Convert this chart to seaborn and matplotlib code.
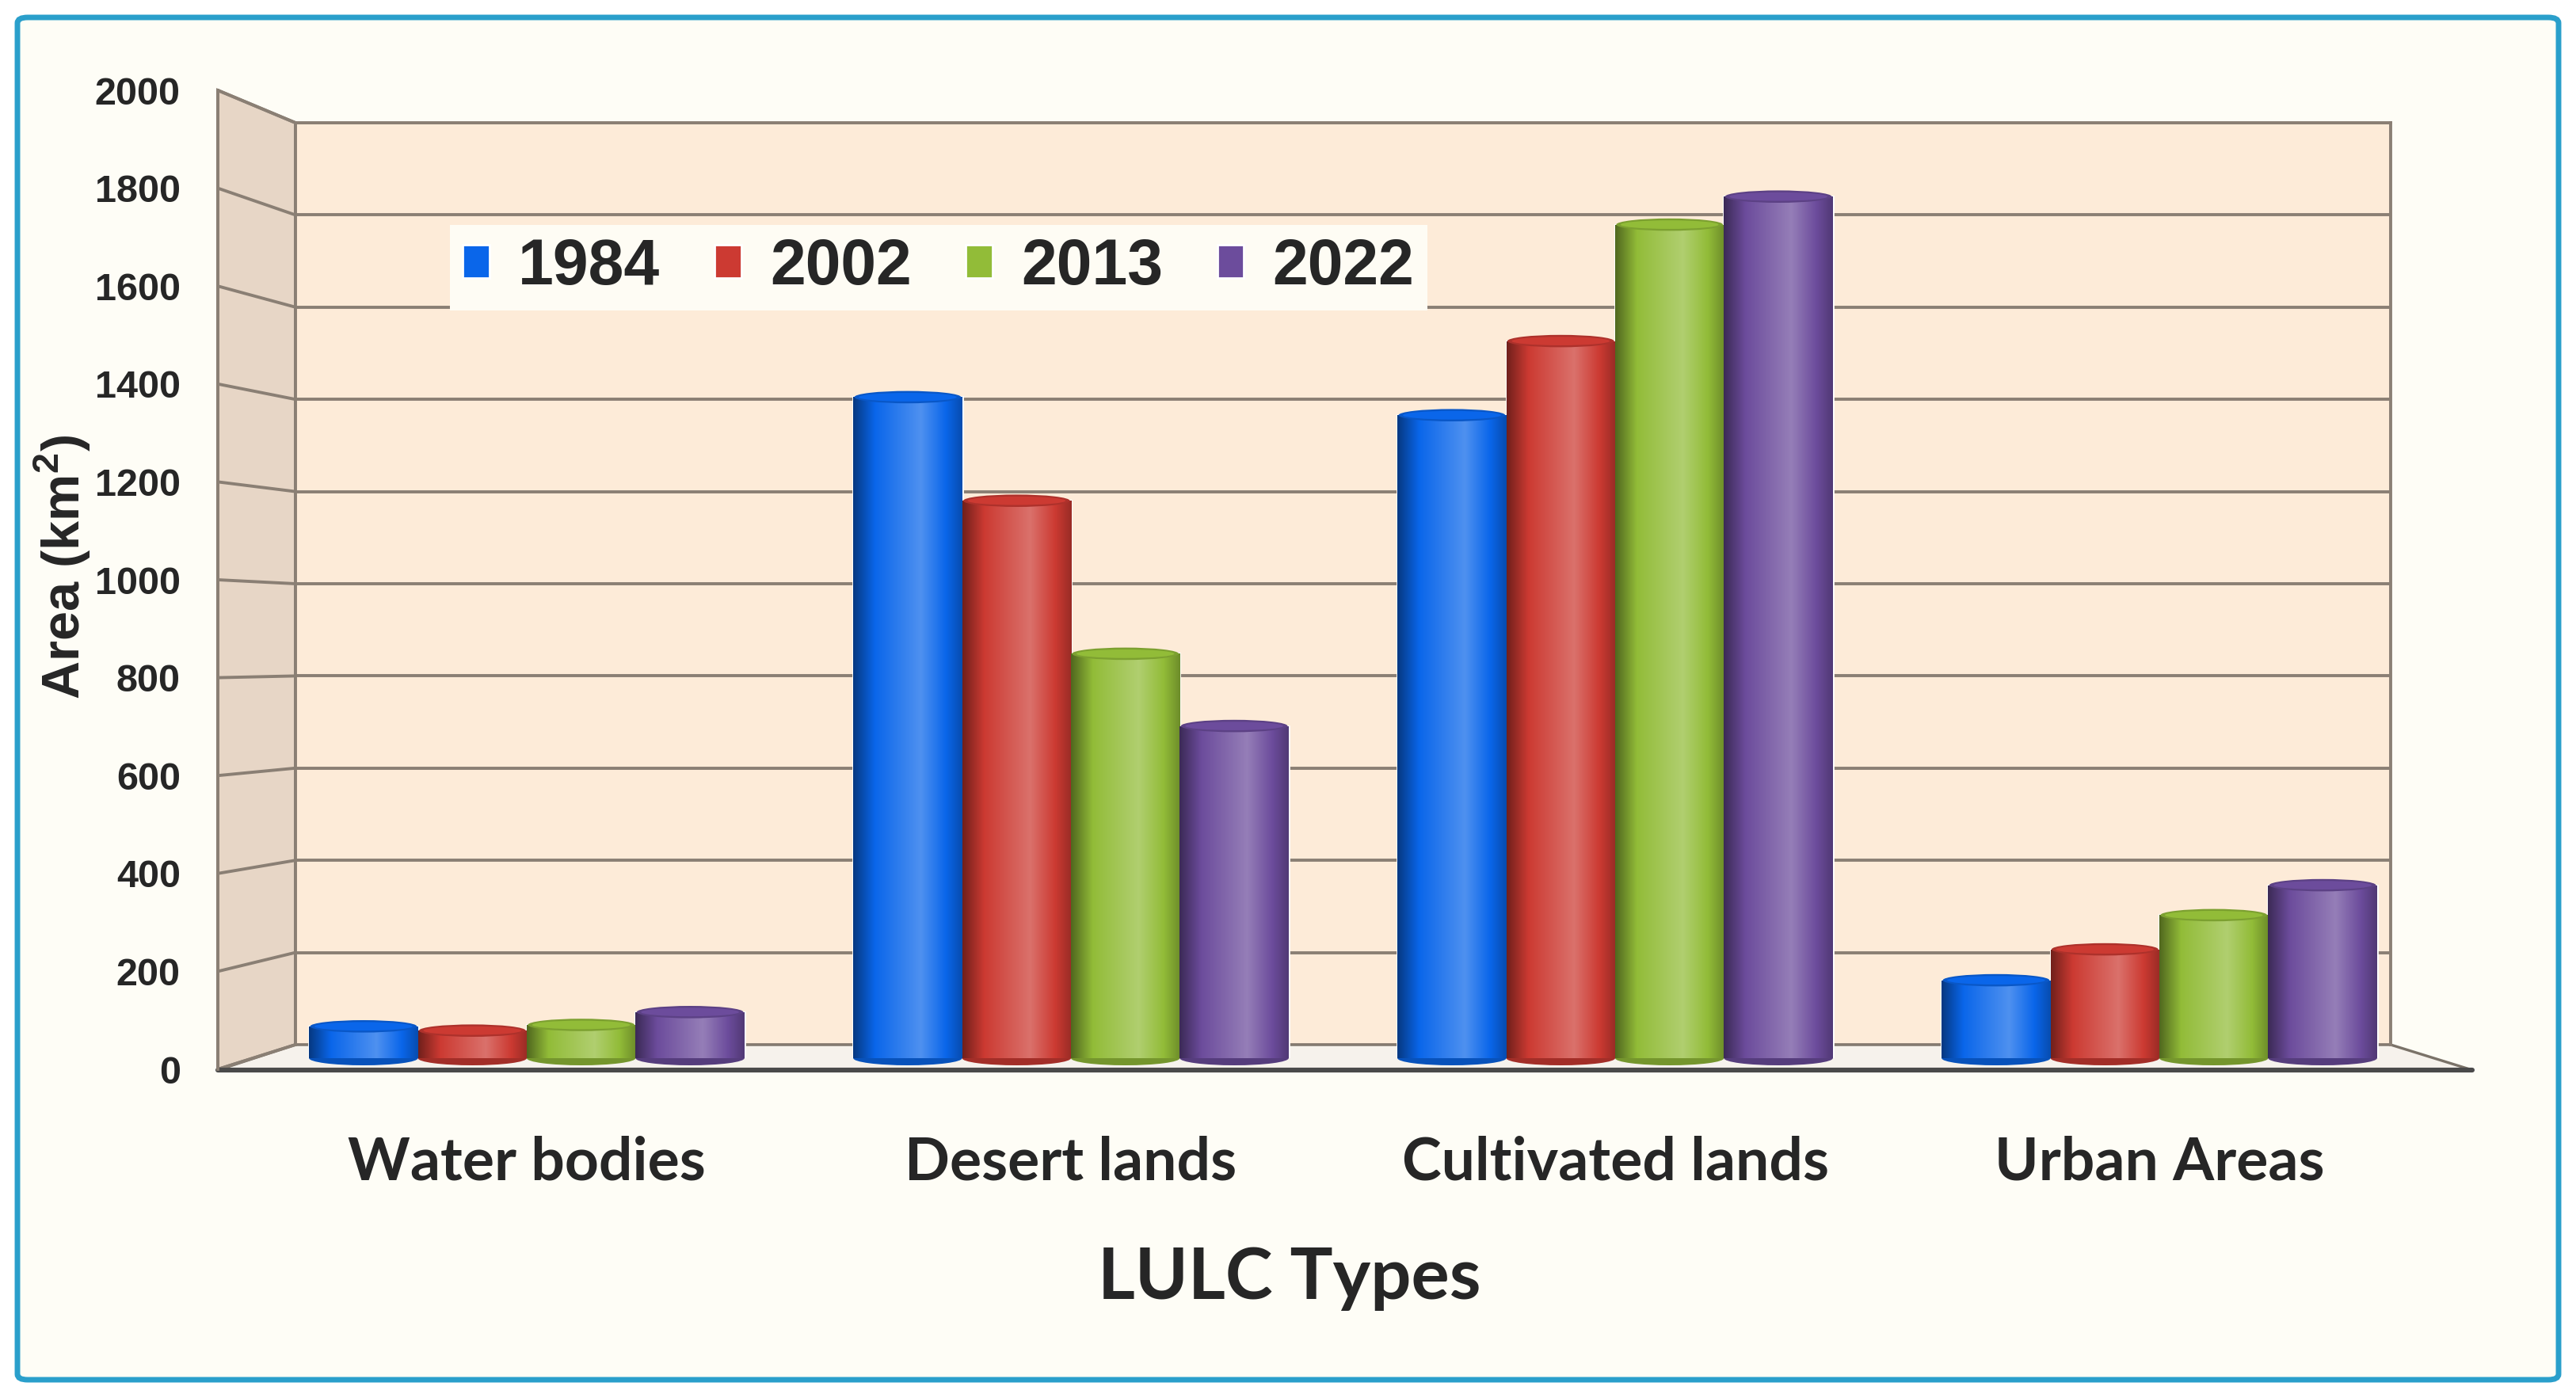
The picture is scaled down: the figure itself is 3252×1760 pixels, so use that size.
import numpy as np
import pandas as pd
import matplotlib
matplotlib.use("Agg")
import matplotlib.pyplot as plt
import seaborn as sns
from matplotlib.patches import Polygon, FancyBboxPatch, Ellipse
from matplotlib.lines import Line2D
from matplotlib.colors import LinearSegmentedColormap, to_rgb

categories = ["Water bodies", "Desert lands", "Cultivated lands", "Urban Areas"]
years = ["1984", "2002", "2013", "2022"]
area_1984 = [67, 1391, 1353, 164]
area_2002 = [58, 1173, 1509, 229]
area_2013 = [70, 851, 1754, 301]
area_2022 = [97, 699, 1813, 364]
y_ticks = [0, 200, 400, 600, 800, 1000, 1200, 1400, 1600, 1800, 2000]
year_colors = ["#0a66ea", "#cc3a32", "#92bc38", "#6c4c9c"]

df = pd.DataFrame({
    "LULC": categories * 4,
    "Year": np.repeat(years, len(categories)),
    "Area": area_1984 + area_2002 + area_2013 + area_2022,
})

W, H, DPI = 3252, 1760, 200
num_font = "Liberation Sans"
cat_font = "Lato"
grid_col = "#8a7f74"

sns.set_theme(style="white")
plt.rcParams["font.family"] = [num_font, "DejaVu Sans"]
plt.rcParams["mathtext.fontset"] = "custom"
plt.rcParams["mathtext.rm"] = "Liberation Sans:bold"
plt.rcParams["mathtext.bf"] = "Liberation Sans:bold"

fig = plt.figure(figsize=(W / DPI, H / DPI), dpi=DPI)
fig.patch.set_facecolor("white")


def fx(px):
    return px / W


def fy(py):
    return 1 - py / H


# outer frame
frame = FancyBboxPatch((fx(22), fy(1742)), fx(3230) - fx(22), fy(22) - fy(1742),
                       boxstyle="round,pad=0,rounding_size=0.004",
                       transform=fig.transFigure, facecolor="#fefdf6",
                       edgecolor="#2a9fcb", linewidth=2.5, zorder=-2)
fig.patches.append(frame)

# back wall with the grid
ax = fig.add_axes([fx(373), fy(1319), fx(3018) - fx(373), fy(155) - fy(1319)])
ax.set_zorder(2)
ax.set_facecolor("#fdebd8")
ax.set_xlim(0, 1)
ax.set_ylim(0, 2000)
ax.set_yticks(y_ticks)
ax.yaxis.grid(True, color=grid_col, linewidth=1.4)
ax.tick_params(axis="y", left=False, labelleft=False)
ax.set_xticks([])
for side in ["left", "right", "top"]:
    ax.spines[side].set_color(grid_col)
    ax.spines[side].set_linewidth(1.4)
ax.spines["bottom"].set_visible(False)

# bars stand a little in front of the back wall
axb = fig.add_axes([fx(373), fy(1336), fx(3018) - fx(373), fy(136) - fy(1336)])
axb.set_zorder(3)
axb.set_facecolor("none")

sns.barplot(data=df, x="LULC", y="Area", hue="Year", palette=year_colors,
            width=0.8, saturation=1, ax=axb, zorder=3)

# cylinder shading on every bar
for container, col in zip(axb.containers, year_colors):
    base = np.array(to_rgb(col))
    dark = base * 0.55
    light = np.clip(base + (1 - base) * 0.28, 0, 1)
    cmap = LinearSegmentedColormap.from_list(
        "cyl", [(0, dark), (0.2, base), (0.62, light), (0.85, base), (1, base * 0.75)])
    grad = np.linspace(0, 1, 256).reshape(1, -1)
    for bar in container:
        x0, w, h = bar.get_x(), bar.get_width(), bar.get_height()
        im = axb.imshow(grad, extent=[x0, x0 + w, 0, h], cmap=cmap, aspect="auto",
                        origin="lower", zorder=3.1)
        im.set_clip_path(bar)
        axb.add_patch(Ellipse((x0 + w / 2, h), w * 0.98, 26, facecolor=base * 0.85,
                              edgecolor="none", zorder=3.2))
        axb.add_patch(Ellipse((x0 + w / 2, h), w * 0.9, 18, facecolor=base,
                              edgecolor="none", zorder=3.3))
        axb.add_patch(Ellipse((x0 + w / 2, 0), w, 30, facecolor=base * 0.8,
                              edgecolor="none", zorder=3.05, clip_on=False))

axb.set_xlim(-0.425, 3.425)
axb.set_ylim(0, 2000)
axb.set_yticks([])
axb.grid(False)
axb.tick_params(axis="x", bottom=False, pad=29)
axb.set_xticks(range(len(categories)))
axb.set_xticklabels(categories, fontsize=27, fontweight="bold", family=cat_font)
axb.set_xlabel("")
axb.set_ylabel("")
for side in axb.spines:
    axb.spines[side].set_visible(False)

# front edge of the left wall carries the value labels
axf = fig.add_axes([fx(275), fy(1350), fx(373) - fx(275), fy(114) - fy(1350)])
axf.set_zorder(1)
axf.set_facecolor("none")
axf.set_ylim(0, 2000)
axf.set_yticks(y_ticks)
axf.set_yticklabels([str(t) for t in y_ticks], fontsize=17.5, fontweight="bold",
                    family=num_font)
axf.tick_params(axis="y", length=0, pad=17)
axf.set_xticks([])
for side in ["right", "top", "bottom"]:
    axf.spines[side].set_visible(False)
axf.spines["left"].set_color(grid_col)
axf.spines["left"].set_linewidth(1.4)

to_fig = fig.transFigure.inverted()


def front_pt(v):
    return to_fig.transform(axf.transData.transform((0, v)))


def back_pt(v):
    p = ax.transAxes.transform((0, 0))
    q = ax.transData.transform((0, v))
    return to_fig.transform((p[0], q[1]))


wall = Polygon([front_pt(0), front_pt(2000), back_pt(2000), back_pt(0)],
               closed=True, transform=fig.transFigure, facecolor="#e7d6c6",
               edgecolor=grid_col, linewidth=1.4, zorder=0.5)
fig.patches.append(wall)
for v in y_ticks:
    a, b = front_pt(v), back_pt(v)
    fig.add_artist(Line2D([a[0], b[0]], [a[1], b[1]], transform=fig.transFigure,
                          color=grid_col, linewidth=1.4, zorder=0.6))

# floor
floor = Polygon([(fx(373), fy(1319)), (fx(3018), fy(1319)), (fx(3121), fy(1351)),
                 (fx(275), fy(1351))], closed=True, transform=fig.transFigure,
                facecolor="#f6f2ec", edgecolor="#7a7268", linewidth=1.2, zorder=0.55)
fig.patches.append(floor)
fig.add_artist(Line2D([fx(275), fx(3121)], [fy(1351), fy(1351)], transform=fig.transFigure,
                      color="#4a4a4a", linewidth=2.2, zorder=0.7))

# legend
handles, labels = axb.get_legend_handles_labels()
axb.legend(handles, labels, loc="upper left", bbox_to_anchor=(fx(568), fy(284)),
           bbox_transform=fig.transFigure, ncol=4, frameon=True, fancybox=False,
           facecolor="#fefcf4", edgecolor="none", framealpha=1,
           prop={"family": num_font, "weight": "bold", "size": 29},
           handlelength=0.42, handleheight=0.42, handletextpad=0.45,
           columnspacing=0.85, borderpad=0.2, borderaxespad=0)

fig.text(fx(79), fy(716), r"Area (km$^{2}$)", rotation=90, ha="center", va="center",
         fontsize=24, fontweight="bold", family=num_font)
fig.text(fx(1628), fy(1614), "LULC Types", ha="center", va="center",
         fontsize=32.5, fontweight="bold", family=cat_font)

fig.savefig("out.png", dpi=DPI)
